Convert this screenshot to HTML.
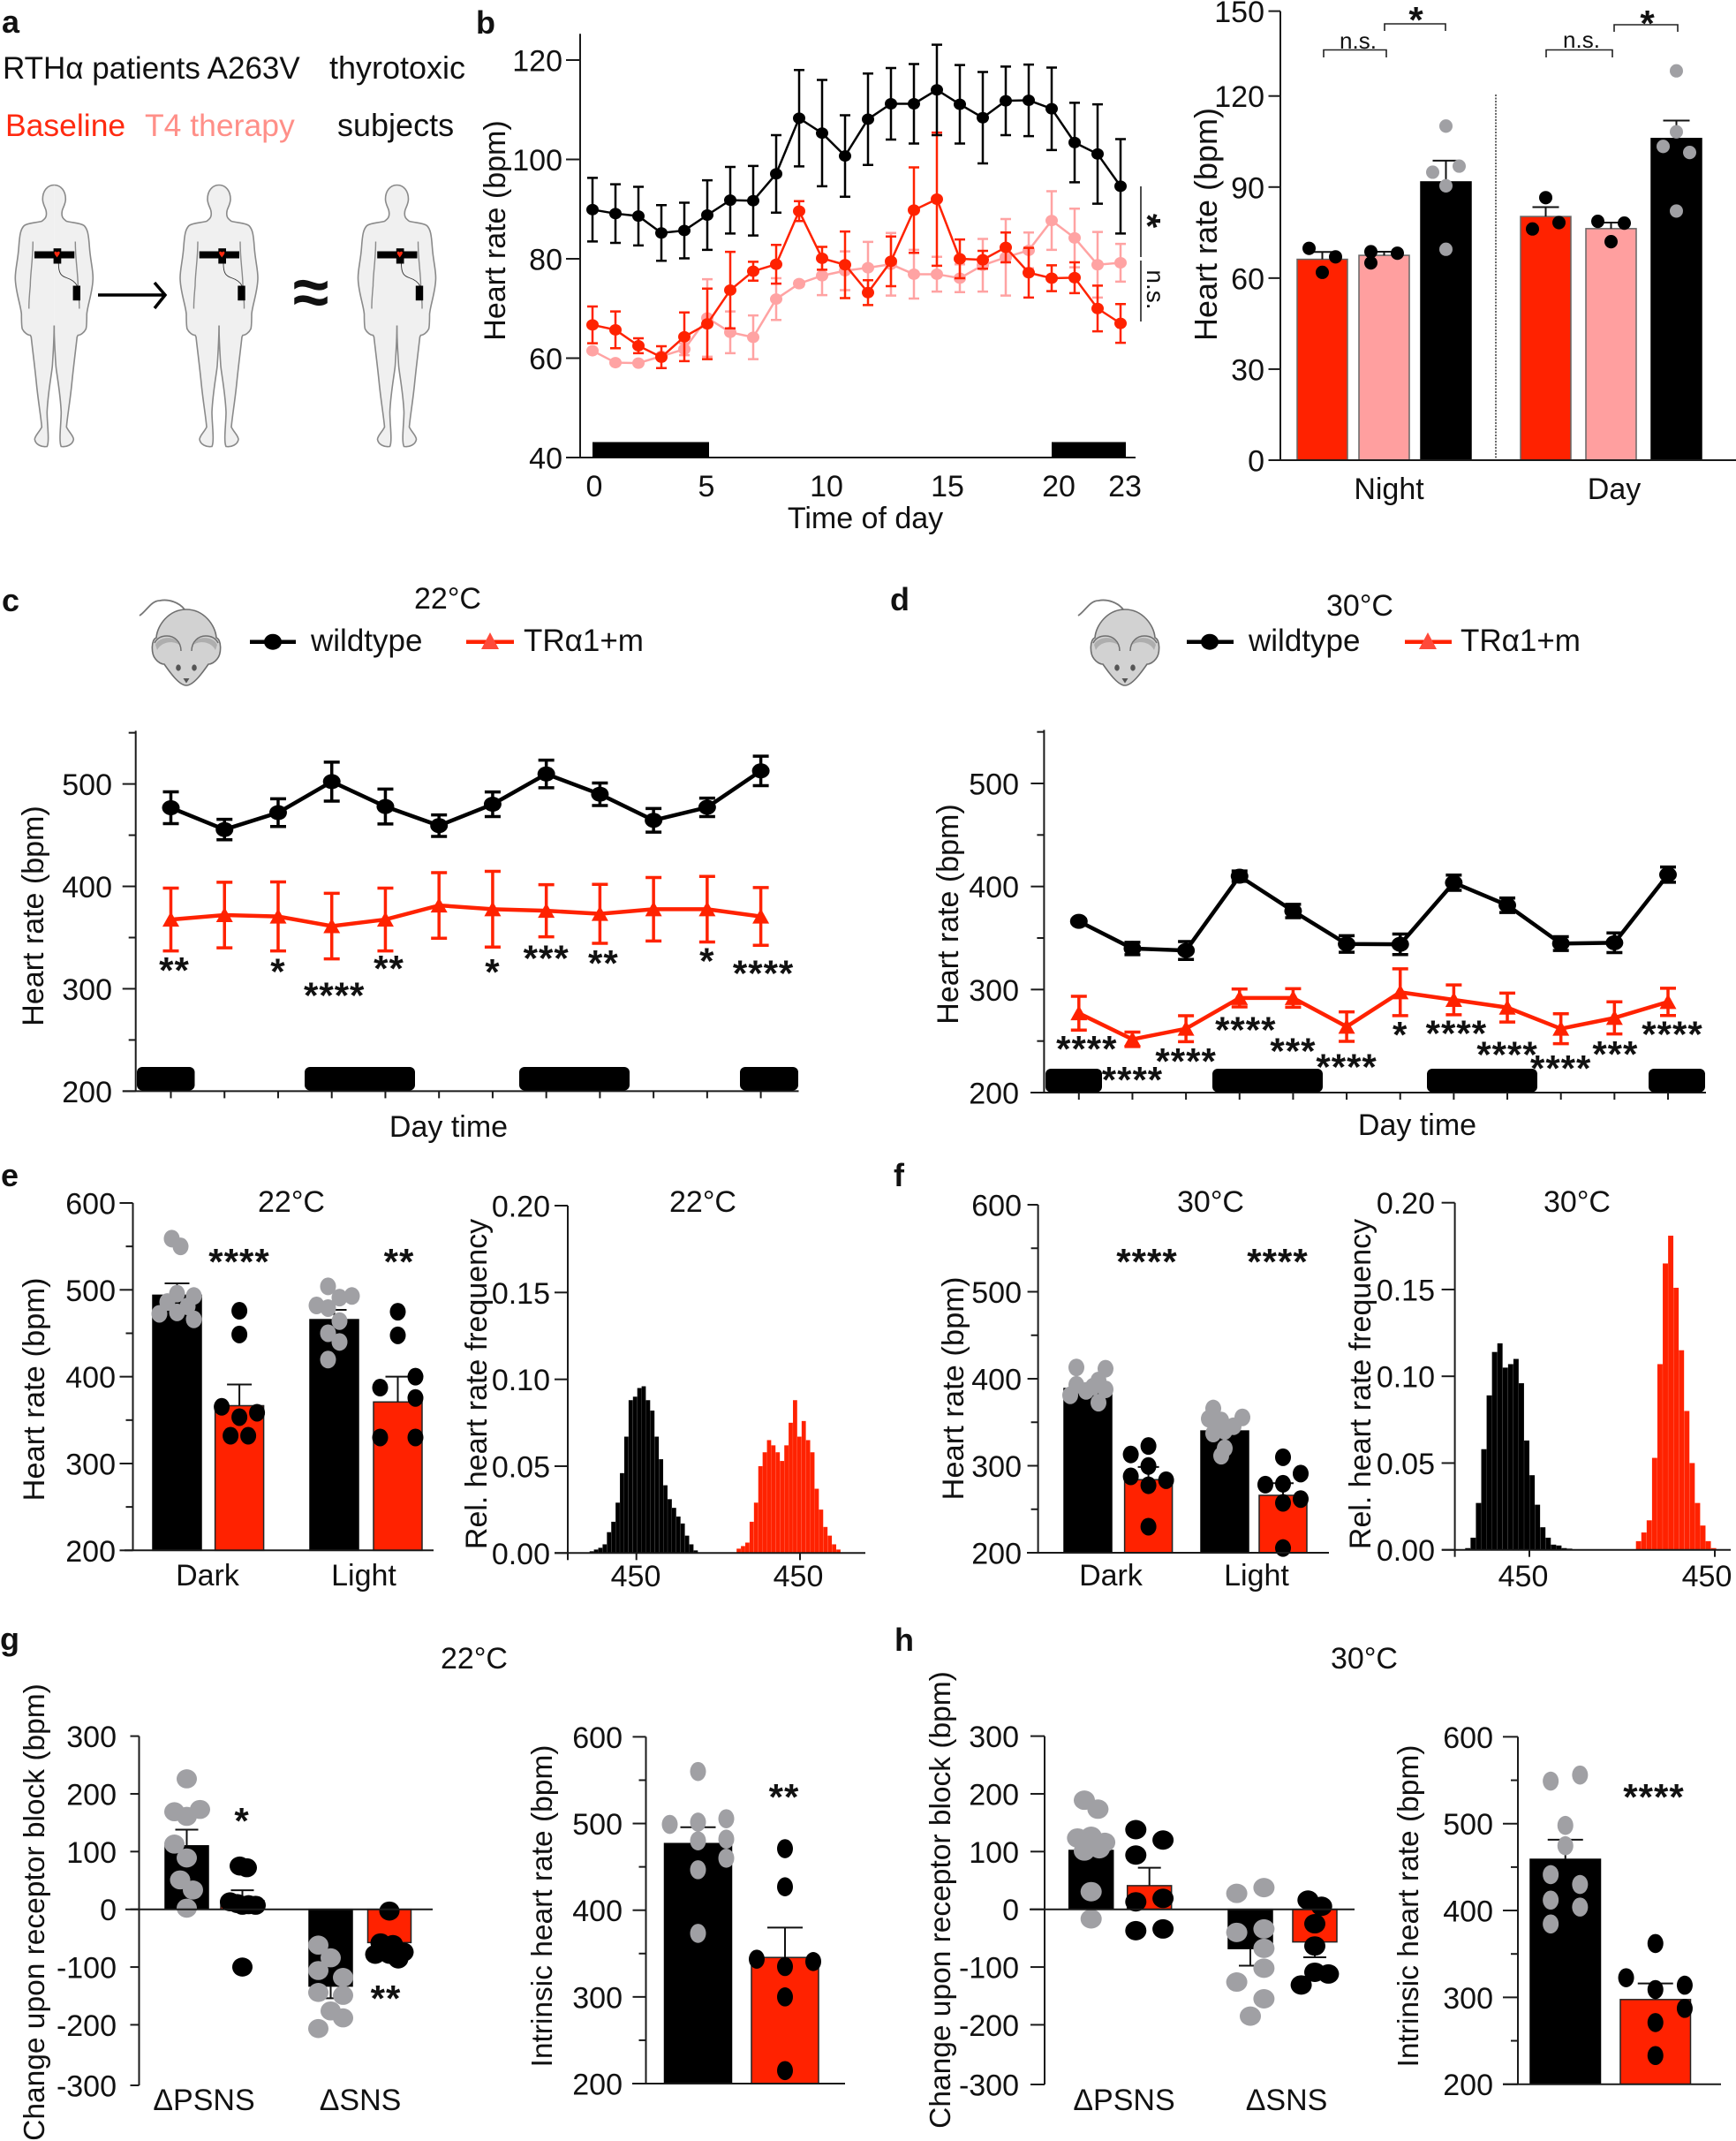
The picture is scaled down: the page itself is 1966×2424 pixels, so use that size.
<!DOCTYPE html>
<html lang="en">
<head>
<meta charset="utf-8">
<title>Heart rate figure</title>
<style>
html,body{margin:0;padding:0;background:#fff;}
svg{display:block;}
text{font-family:"Liberation Sans",sans-serif;fill:#111;font-size:34px;}
.letter{font-weight:bold;font-size:36px;}
.sm{font-size:33.5px;}
</style>
</head>
<body>
<svg id="figure" xmlns="http://www.w3.org/2000/svg" width="1966" height="2424" viewBox="0 0 1966 2424">
<defs>
<g id="human">
  <g id="half">
    <path d="M0,0 C8,0 13,7 13,16 C13,22 9,27 9,30 C8,36 10,38 14,41 C22,43 30,43 34,46 C38,50 39,56 40,70 C41,85 44,95 44,105 C44,120 38,135 37,146 C37,155 37,160 36,163 C34,167 30,170 27,170 C26,172 26,172 26,172 C24,190 22,205 20,225 C18,245 15,262 14,274 C17,280 22,284 22,288 C21,294 14,297 8,296 C5,290 8,270 8,257 C7,235 3,215 2,205 C1,190 0,175 0,159" fill="#f0f0f0" stroke="#8a8a8a" stroke-width="1.6"/>
    <path d="M24,64 C24,85 27,100 27,114 C28,125 28.7,132 28.5,140" fill="none" stroke="#8a8a8a" stroke-width="1.4"/>
  </g>
  <use href="#half" transform="scale(-1,1)"/>
  <rect x="-22.3" y="75" width="45.3" height="8" fill="#000"/>
  <rect x="-0.7" y="71.7" width="8.7" height="17.3" fill="#000"/>
  <path d="M0.3,76 C1.5,74.5 3,75.5 3.3,76.5 C3.6,75.5 5.2,74.5 6.3,76 C6.8,78 4.5,80 3.3,82 C2,80 -0.2,78 0.3,76 Z" fill="#ff2a10"/>
  <path d="M5,89 C5,100 8,103 14,105 C20,107 24,110 26,114" fill="none" stroke="#333" stroke-width="0.9"/>
  <rect x="21.3" y="114" width="8.4" height="16.7" fill="#000"/>
</g>
<g id="mouse">
  <path d="M-53,7 C-45,2 -40,-10 -30,-10 C-20,-12 -8,-8 -2,0" fill="none" stroke="#777" stroke-width="1.8"/>
  <path d="M0,0 C20,0 33,18 34,32 C40,34 40,50 35,56 C32,60 28,62 25,62 C18,72 8,86 0,86 C-8,86 -18,72 -25,62 C-28,62 -32,60 -35,56 C-40,50 -40,34 -34,32 C-33,18 -20,0 0,0 Z" fill="#d2d2d2" stroke="#6e6e6e" stroke-width="1.6"/>
  <path d="M-35,40 C-32,31 -12,28 -8,40 C-15,35 -28,36 -33,46 Z" fill="#aeaeae"/>
  <path d="M35,40 C32,31 12,28 8,40 C15,35 28,36 33,46 Z" fill="#aeaeae"/>
  <path d="M-6,47 C-6,36 -14,30 -22,30 C-28,30 -33,32 -36,38" fill="none" stroke="#6e6e6e" stroke-width="1.5"/>
  <path d="M6,47 C6,36 14,30 22,30 C28,30 33,32 36,38" fill="none" stroke="#6e6e6e" stroke-width="1.5"/>
  <ellipse cx="-9" cy="66" rx="2.8" ry="3.6" fill="#555"/>
  <ellipse cx="9" cy="66" rx="2.8" ry="3.6" fill="#555"/>
  <path d="M-3.5,78 L3.5,78 L0,83.5 Z" fill="#555"/>
</g>
</defs>

<g>
  <text class="letter" x="2" y="37">a</text>
  <text x="3" y="89" style="font-size:35px">RTHα patients A263V</text>
  <text x="373" y="89" style="font-size:36px">thyrotoxic</text>
  <text x="6" y="154" style="font-size:35.5px;fill:#ff2a10">Baseline</text>
  <text x="164" y="154" style="font-size:35.5px;fill:#ff8f88">T4 therapy</text>
  <text x="382" y="154" style="font-size:36px">subjects</text>
  <use href="#human" x="61.3" y="209.5"/>
  <use href="#human" x="248" y="209.5"/>
  <use href="#human" x="449.5" y="209.5"/>
  <path d="M111,334 H185 M175,320 L187,334 L175,349" fill="none" stroke="#000" stroke-width="3.5"/>
  <text x="352" y="356" text-anchor="middle" style="font-size:74px;font-weight:bold">≈</text>
</g>

<g id="panelBL">
  <text class="letter" x="539" y="38">b</text>
  <text transform="rotate(-90 572 261)" x="572" y="261" text-anchor="middle">Heart rate (bpm)</text>
  <text x="673" y="562" text-anchor="middle">0</text>
  <text x="800" y="562" text-anchor="middle">5</text>
  <text x="936" y="562" text-anchor="middle">10</text>
  <text x="1073" y="562" text-anchor="middle">15</text>
  <text x="1199" y="562" text-anchor="middle">20</text>
  <text x="1274" y="562" text-anchor="middle">23</text>
  <text x="980" y="598" text-anchor="middle">Time of day</text>
  <path d="M1292,211 V291 M1292,295 V364" stroke="#222" stroke-width="1.6" fill="none"/>
  <text transform="rotate(90 1285 250)" x="1285" y="250" text-anchor="middle" style="font-size:42px;font-weight:bold">*</text>
  <text transform="rotate(90 1299 328)" x="1299" y="328" text-anchor="middle" style="font-size:28px">n.s.</text>
</g>

<g id="panelBR">
  <text transform="rotate(-90 1378 254)" x="1378" y="254" text-anchor="middle" style="font-size:36px">Heart rate (bpm)</text>
  <text x="1573" y="565" text-anchor="middle">Night</text>
  <text x="1828" y="565" text-anchor="middle">Day</text>
  <path d="M1499,65 V56.5 H1570 V65 M1568,35 V27 H1637 V35 M1751,65 V56.5 H1826 V65 M1828,36 V28 H1900 V36" fill="none" stroke="#222" stroke-width="1.6"/>
  <text x="1538" y="55" text-anchor="middle" style="font-size:26px">n.s.</text>
  <text x="1791" y="54" text-anchor="middle" style="font-size:26px">n.s.</text>
  <line x1="1694" y1="107" x2="1694" y2="522" stroke="#444" stroke-width="1.6" stroke-dasharray="2 1.5"/>
</g>

<g id="panelC">
  <text class="letter" x="2" y="692">c</text>
  <text x="507" y="689" text-anchor="middle">22°C</text>
  <use href="#mouse" x="211" y="690"/>
  <line x1="283" x2="335" y1="726.7" y2="726.7" stroke="#000" stroke-width="4.5"/>
  <ellipse cx="309" cy="726.7" rx="10" ry="9" fill="#000"/>
  <text x="352" y="737" style="font-size:35px">wildtype</text>
  <line x1="528" x2="582" y1="726.7" y2="726.7" stroke="#ff2200" stroke-width="4.5"/>
  <path d="M555,716 L565,735 H545 Z" fill="#ff4a3a"/>
  <text x="593" y="737" style="font-size:35px">TRα1+m</text>
  <text transform="rotate(-90 49 1037)" x="49" y="1037" text-anchor="middle">Heart rate (bpm)</text>
  <text x="508" y="1287" text-anchor="middle">Day time</text>
</g>

<g id="panelD">
  <text class="letter" x="1008" y="691">d</text>
  <text x="1540" y="697" text-anchor="middle">30°C</text>
  <use href="#mouse" x="1274" y="690"/>
  <line x1="1344" x2="1397" y1="726.7" y2="726.7" stroke="#000" stroke-width="4.5"/>
  <ellipse cx="1370" cy="726.7" rx="10" ry="9" fill="#000"/>
  <text x="1414" y="737" style="font-size:35px">wildtype</text>
  <line x1="1591" x2="1644" y1="726.7" y2="726.7" stroke="#ff2200" stroke-width="4.5"/>
  <path d="M1617,716 L1627,735 H1607 Z" fill="#ff4a3a"/>
  <text x="1654" y="737" style="font-size:35px">TRα1+m</text>
  <text transform="rotate(-90 1085 1035)" x="1085" y="1035" text-anchor="middle">Heart rate (bpm)</text>
  <text x="1605" y="1285" text-anchor="middle">Day time</text>
</g>

<g id="panelE">
  <text class="letter" x="1" y="1343">e</text>
  <text x="330" y="1372" text-anchor="middle">22°C</text>
  <text transform="rotate(-90 50 1573)" x="50" y="1573" text-anchor="middle" style="font-size:34.5px">Heart rate (bpm)</text>
  <text x="235" y="1795" text-anchor="middle">Dark</text>
  <text x="412" y="1795" text-anchor="middle">Light</text>
</g>

<g id="panelEH">
  <text x="796" y="1372" text-anchor="middle">22°C</text>
  <text transform="rotate(-90 551 1567)" x="551" y="1567" text-anchor="middle" style="font-size:34px">Rel. heart rate frequency</text>
  <text x="720" y="1796" text-anchor="middle">450</text>
  <text x="904" y="1796" text-anchor="middle">450</text>
</g>

<g id="panelF">
  <text class="letter" x="1012" y="1343">f</text>
  <text x="1371" y="1372" text-anchor="middle">30°C</text>
  <text transform="rotate(-90 1091 1572)" x="1091" y="1572" text-anchor="middle" style="font-size:34.5px">Heart rate (bpm)</text>
  <text x="1258" y="1795" text-anchor="middle">Dark</text>
  <text x="1423" y="1795" text-anchor="middle">Light</text>
</g>

<g id="panelFH">
  <text x="1786" y="1372" text-anchor="middle">30°C</text>
  <text transform="rotate(-90 1552 1567)" x="1552" y="1567" text-anchor="middle" style="font-size:34px">Rel. heart rate frequency</text>
  <text x="1725" y="1796" text-anchor="middle">450</text>
  <text x="1933" y="1796" text-anchor="middle">450</text>
</g>

<g id="panelG">
  <text class="letter" x="0" y="1868">g</text>
  <text x="537" y="1889" text-anchor="middle">22°C</text>
  <text transform="rotate(-90 50 2165)" x="50" y="2165" text-anchor="middle" class="sm">Change upon receptor block (bpm)</text>
  <text x="231" y="2389" text-anchor="middle">ΔPSNS</text>
  <text x="408" y="2389" text-anchor="middle">ΔSNS</text>
</g>

<g id="panelGI">
  <text transform="rotate(-90 625 2158)" x="625" y="2158" text-anchor="middle" class="sm">Intrinsic heart rate (bpm)</text>
</g>

<g id="panelH">
  <text class="letter" x="1013" y="1869">h</text>
  <text x="1545" y="1889" text-anchor="middle">30°C</text>
  <text transform="rotate(-90 1076 2151)" x="1076" y="2151" text-anchor="middle" class="sm">Change upon receptor block (bpm)</text>
  <text x="1273" y="2389" text-anchor="middle">ΔPSNS</text>
  <text x="1457" y="2389" text-anchor="middle">ΔSNS</text>
</g>

<g id="panelHI">
  <text transform="rotate(-90 1606 2158)" x="1606" y="2158" text-anchor="middle" class="sm">Intrinsic heart rate (bpm)</text>
</g>
</svg>

<script>
// ---- Panel b hourly ----
const bHours=[0,1,2,3,4,5,6,7,8,9,10,11,12,13,14,15,16,17,18,19,20,21,22,23];
const bYTicks=[40,60,80,100,120];
const bThyrotoxic=[89.9,89.1,88.6,85.2,85.7,88.8,91.8,91.7,97.1,108.3,105.3,100.7,108.1,111.2,111.2,114,111.1,108.4,111.8,111.9,110.2,103.4,101.1,94.6];
const bThyrotoxicErr=[6.4,5.9,5.9,5.6,5.6,7,6.7,7,7.8,9.7,10.7,8.2,9.2,7.2,8,9.1,7.9,9.2,6.9,7.2,8.3,8,10,9.5];
const bBaseline=[66.7,65.7,62.5,60.2,64.3,66.9,73.7,77.5,78.9,89.6,80.1,78.8,73.2,79.5,89.8,92,80,79.8,82.3,77.2,76.1,76.2,70,67];
const bBaselineErr=[3.7,3.7,1.5,2.2,4.9,7.1,7.7,1.9,3.9,2,2.3,6.7,2.5,5,8.6,13.4,3.9,1.8,3,5,2.6,3.1,4.6,3.9];
const bT4=[61.5,59.1,59,60.4,61.8,68.1,65.2,64.2,71.9,75,76.6,77.6,78.2,78.9,76.9,76.9,76.1,78.7,80.3,81.7,87.7,84.2,78.8,79.2];
const bT4Err=[0.3,0.3,0.3,0.3,1.2,7.8,4.2,4.4,4.2,0.5,3.9,3.9,5.2,6.3,4.9,3.5,2.8,5.3,7.7,3.6,5.9,5.9,6.6,3.8];
const bNightHours=[[0,5],[20,23]];
// ---- Panel b bars ----
const bBarYTicks=[0,30,60,90,120,150];
const bBarValues=[66.2,67.5,91.7,80.3,76.3,106];
const bBarErrors=[68.6,68.7,98.7,83.4,78.3,111.9];
const bBarColors=['#ff2200','#ff9f9f','#000','#ff2200','#ff9f9f','#000'];
const bDots=[
 [[69.8,-1],[67,1],[61.9,0]],
 [[68.7,-1],[68.2,1],[65,-1]],
 [[110.1,0],[96.9,1],[94.9,-1],[90.4,0],[69.5,0]],
 [[86.5,0],[76.2,-1],[78.3,1]],
 [[78.7,-1],[78.1,1],[72,0]],
 [[128.9,0],[108.2,0],[103.4,-1],[101.4,1],[82.1,0]]
];
// ---- Panel c ----
const timeTicks=[0,1,2,3,4,5,6,7,8,9,10,11];
const hrYTicks=[200,300,400,500];
const hrYMinor=[250,350,450,550];
const cWildtype=[476.8,455.5,472,502.3,478,459.3,480.2,509.8,490,464.5,477.2,512.8];
const cWildtypeErr=[15.5,10,13.5,19,17,10.5,12,13.5,11,11.5,9,14.4];
const cMutant=[367.6,372,370.6,361.2,367.6,381.4,377.7,376.2,373.2,377.7,377.7,370.6];
const cMutantErr=[30.7,32,33.7,32,30.7,32,37,25.4,28.8,31,32,28.2];
const cStars=['**','','*','****','**','','*','***','**','','*','****'];
const cStarLevels=[323,0,321.6,298.4,324.6,0,320.9,334.3,329.8,0,332,320];
// ---- Panel d ----
const dWildtype=[366.2,339.8,337.9,410,376.2,344.2,343.9,403.7,381.8,344.6,345.4,411.5];
const dWildtypeErr=[2,6,8.7,5,6.5,8,10,7.4,7,6.7,9.5,7.4];
const dMutant=[277,251.7,262,291.8,291.8,264,297.4,290,282.5,262,272.5,288];
const dMutantErr=[16.4,7,12.6,8.7,9,14.3,22.7,14.5,14,14.5,15.6,13.2];
const dStars=['****','****','****','****','***','****','*','****','****','****','***','****'];
const dStarLevels=[247,217.3,235,265.7,245,229.6,260.9,262,241.5,228.5,242.2,261.2];
// ---- Panel e ----
const barYTicks=[200,300,400,500,600];
const eValues=[493.8,366.6,465.7,370.9];
const eErrors=[507.4,391,477,400];
const eDots=[
 [[559,-.6],[550,.4],[492.9,1.9],[495.6,0],[486,-1.1],[472.4,-2],[474,0],[466,1.9],[481,1.2]],
 [[475.9,0],[448.6,0],[365.3,-2],[358.5,2],[353.4,0],[332,-1],[332,1]],
 [[504,-.7],[492.9,2],[491,.6],[482,-2],[479,-.7],[464,.6],[450,-.7],[440,.6],[419.7,-.7]],
 [[474.8,0],[447.6,0],[400,2],[387.4,-2],[375.5,2],[330,-2],[330,2]]
];
const freqYTicks=[0,0.05,0.1,0.15,0.2];
const eHistWT=[.001,.002,.003,.005,.012,.018,.029,.046,.067,.088,.09,.095,.096,.088,.082,.067,.054,.039,.031,.026,.021,.017,.01,.005,.0015];
const eHistMut=[.0025,.004,.006,.018,.029,.05,.058,.065,.062,.058,.053,.062,.075,.088,.067,.076,.065,.058,.037,.025,.015,.01,.005,.002];
// ---- Panel f ----
const fValues=[388.8,284,340,266];
const fErrors=[391,298.6,342,280];
const fDots=[
 [[413,-1.3],[411.5,2],[393,-1.3],[398,1.2],[387.8,2],[386,-.2],[381,-2],[372.5,1.2],[391,.6]],
 [[322.7,0],[313,-2],[299.7,0],[287.8,-2],[283.4,2],[277.6,0],[230,0]],
 [[365.8,-1.3],[355.6,2],[354,-1.8],[352,-.4],[345.4,1],[340,0],[337,-1.3],[320,0],[311.5,-.4]],
 [[309.8,0],[291,2],[278.3,-2],[279.3,0],[261.7,2],[257.3,0],[205.4,0]]
];
const fHistWT=[.001,.007,.027,.058,.089,.114,.119,.105,.107,.11,.096,.063,.043,.026,.013,.007,.003,.0025,.001,.0007];
const fHistMut=[.005,.01,.017,.053,.107,.165,.181,.151,.115,.08,.05,.027,.014,.005,.001];
// ---- Panel g ----
const changeYTicks=[-300,-200,-100,0,100,200,300];
const gValues=[110,15,-133,-57.6];
const gErrors=[138,33,-154,-59];
const gDots=[
 [[226,0],[173,1.5],[169,-1.4],[161,0],[113,-1.4],[89,0],[51,-.75],[33.5,.7],[2,0]],
 [[75,-.3],[72,.5],[13,-1.4],[7,0],[7,1.5],[10,-.6],[8,.7],[-100,0]],
 [[-62,-1.4],[-84,0],[-106,-1.4],[-118,1.4],[-144,-1.4],[-149,1.4],[-176,0],[-188,1.4],[-206,-1.4]],
 [[-3,0],[-58,-1],[-61,.4],[-78,-1.6],[-78,0],[-74,1.6],[-86,1]]
];
const intrinsicYTicks=[200,300,400,500,600];
const gIValues=[476.9,345.5];
const gIErrors=[495.7,380];
const gIDots=[
 [[560,0],[499,-1],[501.6,0],[505.5,1],[480,0],[482,1],[460,1],[446.7,0],[373.3,0]],
 [[471,0],[427,0],[343.5,-1],[335,0],[340.8,1],[300,0],[215,0]]
];
// ---- Panel h ----
const hValues=[102,41,-68,-56.5];
const hErrors=[114,72,-97.6,-83];
const hDots=[
 [[189,-.5],[173.5,.5],[123.5,-1],[126.5,0],[116,1],[101,-.5],[105,.6],[30.6,0],[-16.5,0]],
 [[138,-1],[120,1],[94,-1],[19,1],[13,-1],[-37,-1],[-34,1]],
 [[27.6,-1],[37.6,1],[-40,-1],[-34,1],[-67.6,1],[-102,1],[-126,-1],[-155,1],[-185,0]],
 [[16,-.5],[5.3,.5],[-25,0],[-63.5,0],[-109,0],[-112,1],[-131,-1]]
];
const hIValues=[459,297.5];
const hIErrors=[481.6,316];
const hIDots=[
 [[549,-1],[556,1],[498,0],[474.6,0],[441.3,-1],[430,1],[412,-1],[404,1],[384.5,-1]],
 [[362,0],[322.6,-2],[314,2],[309,0],[287.3,2],[271,0],[233,0]]
];

const NS='http://www.w3.org/2000/svg';
const AXIS='#1a1a1a';
function mk(parent,tag,attrs,name,text){
  const el=document.createElementNS(NS,tag);
  for(const k in attrs)el.setAttribute(k,attrs[k]);
  
  
  if(text!==undefined)el.textContent=text;
  parent.appendChild(el);
  return el;
}
function linear(d0,r0,d1,r1){return v=>r0+(v-d0)*(r1-r0)/(d1-d0);}
function yAxis(g,x,y,range,ticks,minor,fmt,tickLen,labelX){
  mk(g,'line',{x1:x,x2:x,y1:y(range[0]),y2:y(range[1]),stroke:AXIS,'stroke-width':2},'y-axis-line');
  ticks.forEach(t=>{
    mk(g,'line',{x1:x-tickLen,x2:x,y1:y(t),y2:y(t),stroke:AXIS,'stroke-width':2},'y-tick');
    mk(g,'text',{x:labelX,y:y(t)+12.5,'text-anchor':'end'},'y-tick-label',fmt?fmt(t):String(t));
  });
  minor.forEach(t=>mk(g,'line',{x1:x-8,x2:x,y1:y(t),y2:y(t),stroke:AXIS,'stroke-width':2},'y-minor-tick'));
}
function series(g,xs,vals,errs,y,o){
  errs.forEach((e,i)=>{
    const cx=xs[i];
    mk(g,'path',{d:`M${cx},${y(vals[i]-e)}V${y(vals[i]+e)}M${cx-o.cap},${y(vals[i]-e)}H${cx+o.cap}M${cx-o.cap},${y(vals[i]+e)}H${cx+o.cap}`,fill:'none',stroke:o.color,'stroke-width':o.errW},o.name+'-error-bar');
  });
  mk(g,'polyline',{points:vals.map((v,i)=>xs[i]+','+y(v)).join(' '),fill:'none',stroke:o.color,'stroke-width':o.lineW},o.name+'-line');
  vals.forEach((v,i)=>{
    if(o.marker==='tri'){
      const cx=xs[i],cy=y(v);
      mk(g,'path',{d:`M${cx},${cy-9}L${cx+o.rx},${cy+8}H${cx-o.rx}Z`,fill:o.color},o.name+'-point');
    }else{
      mk(g,'ellipse',{cx:xs[i],cy:y(v),rx:o.rx,ry:o.ry,fill:o.color},o.name+'-point');
    }
  });
}
function stars(g,x,cy,s){
  if(!s)return;
  mk(g,'text',{x:x,y:cy+20,'text-anchor':'middle',style:'font-size:42px;font-weight:bold;letter-spacing:1px'},'significance-stars',s);
}
function barChart(g,opts){
  opts.values.forEach((v,i)=>{
    const left=opts.x(i),w=opts.width,c=left+w/2,y=opts.y;
    const col=opts.colors[i];
    const top=Math.min(y(v),y(opts.base)),h=Math.abs(y(v)-y(opts.base));
    const outline=col==='#000'?'#000':(opts.outline||'#222');
    mk(g,'rect',{x:left,y:top,width:w,height:h,fill:col,stroke:outline,'stroke-width':1.5},opts.name+'-bar-'+i);
    const e=opts.errors[i];
    mk(g,'path',{d:`M${c},${y(v)}V${y(e)}M${c-opts.cap},${y(e)}H${c+opts.cap}`,fill:'none',stroke:'#111','stroke-width':2},opts.name+'-error-bar-'+i);
    opts.dots[i].forEach(p=>{
      const fill=col==='#000'?'#a0a0a4':'#000';
      mk(g,'ellipse',{cx:c+p[1]*opts.unit,cy:y(p[0]),rx:opts.rx,ry:opts.ry,fill:fill},opts.name+'-data-point');
    });
  });
}
function twoGroups(a,s1,b,s2,n){return i=>i<n?a+i*s1:b+(i-n)*s2;}
function histogram(g,freqs,start,w,y,color,name){
  freqs.forEach((f,i)=>{
    mk(g,'rect',{x:start+i*w,y:y(f),width:w-0.15,height:y(0)-y(f),fill:color},name+'-bin');
  });
}
function xAxisLine(g,x1,x2,yy){mk(g,'line',{x1:x1,x2:x2,y1:yy,y2:yy,stroke:AXIS,'stroke-width':2},'x-axis-line');}

// Panel b line chart
(function(){
  const g=document.getElementById('panelBL');
  const y=linear(40,518,120,68), x=linear(0,671,23,1269);
  const xs=bHours.map(x);
  yAxis(g,657,y,[40,125.3],bYTicks,[],null,16,637);
  mk(g,'line',{x1:657,x2:1286,y1:y(40),y2:y(40),stroke:AXIS,'stroke-width':2},'x-axis-line');
  bNightHours.forEach(n=>mk(g,'rect',{x:x(n[0]),y:500.5,width:x(n[1])-x(n[0])+(n[0]===20?6:2),height:17.5,fill:'#000'},'night-period-bar'));
  series(g,xs,bT4,bT4Err,y,{color:'#ffa3a3',cap:6,errW:2.5,lineW:2.5,rx:7,ry:6.5,name:'t4-therapy'});
  series(g,xs,bBaseline,bBaselineErr,y,{color:'#ff2200',cap:6,errW:2.5,lineW:2.5,rx:7,ry:6.5,name:'baseline'});
  series(g,xs,bThyrotoxic,bThyrotoxicErr,y,{color:'#000',cap:6,errW:2.5,lineW:2.5,rx:7,ry:6.5,name:'thyrotoxic'});
})();

// Panel b bars
(function(){
  const g=document.getElementById('panelBR');
  const lo=linear(0,521,120,108.7), hi=linear(120,108.7,150,12.6);
  const y=v=>v>120?hi(v):lo(v);
  yAxis(g,1450,y,[0,150],bBarYTicks,[],null,13.5,1432);
  barChart(g,{values:bBarValues,errors:bBarErrors,colors:bBarColors,dots:bDots,x:twoGroups(1469,70,1722,74,3),width:57,y:y,base:0,cap:15,unit:15,rx:7.5,ry:7.6,outline:'#666',name:'night-day'});
  xAxisLine(g,1450,1966,y(0));
  stars(g,1604,17,'*');
  stars(g,1866,21,'*');
})();

// Panel c
(function(){
  const g=document.getElementById('panelC');
  const y=linear(200,1235.4,500,887.6), x=linear(0,193.5,11,861.6);
  const xs=timeTicks.map(x);
  yAxis(g,153.7,y,[200,552],hrYTicks,hrYMinor,null,15,127);
  xAxisLine(g,139,904.5,y(200));
  timeTicks.forEach(t=>mk(g,'line',{x1:x(t),x2:x(t),y1:y(200),y2:y(200)+8,stroke:AXIS,'stroke-width':2},'x-tick'));
  [[155,220.5],[345,470],[588,713],[838,904]].forEach(r=>mk(g,'rect',{x:r[0],y:1208,width:r[1]-r[0],height:26.5,rx:6,fill:'#000'},'dark-period-bar'));
  series(g,xs,cWildtype,cWildtypeErr,y,{color:'#000',cap:9,errW:3.5,lineW:4.5,rx:10,ry:8.5,name:'wildtype'});
  series(g,xs,cMutant,cMutantErr,y,{color:'#ff2200',cap:9,errW:3.5,lineW:4.5,rx:9.5,marker:'tri',name:'mutant'});
  cStars.forEach((s,i)=>stars(g,xs[i]+(s==='**'?4:s==='****'?3:0),y(cStarLevels[i]),s));
})();

// Panel d
(function(){
  const g=document.getElementById('panelD');
  const y=linear(200,1237,500,887), x=linear(0,1221.8,11,1889);
  const xs=timeTicks.map(x);
  yAxis(g,1182.4,y,[200,552],hrYTicks,hrYMinor,null,15,1154);
  xAxisLine(g,1167,1932,y(200));
  timeTicks.forEach(t=>mk(g,'line',{x1:x(t),x2:x(t),y1:y(200),y2:y(200)+8,stroke:AXIS,'stroke-width':2},'x-tick'));
  [[1184,1248],[1373,1498],[1616,1741],[1867,1931]].forEach(r=>mk(g,'rect',{x:r[0],y:1210,width:r[1]-r[0],height:26.5,rx:6,fill:'#000'},'dark-period-bar'));
  series(g,xs,dWildtype,dWildtypeErr,y,{color:'#000',cap:9,errW:3.5,lineW:4.5,rx:10,ry:8.5,name:'wildtype'});
  series(g,xs,dMutant,dMutantErr,y,{color:'#ff2200',cap:9,errW:3.5,lineW:4.5,rx:9.5,marker:'tri',name:'mutant'});
  dStars.forEach((s,i)=>stars(g,xs[i]+(i===0?9:i===3?7:i===7?3:i===10?1:i===11?5:0),y(dStarLevels[i]),s));
})();

// Panel e bars
(function(){
  const g=document.getElementById('panelE');
  const y=linear(200,1755.3,600,1362);
  yAxis(g,150.5,y,[200,600],barYTicks,hrYMinor,null,15,131);
  barChart(g,{values:eValues,errors:eErrors,colors:['#000','#ff2200','#000','#ff2200'],dots:eDots,x:twoGroups(173,70.6,351,72,2),width:55,y:y,base:200,cap:14,unit:10,rx:9,ry:10,name:'dark-light'});
  xAxisLine(g,141,491,y(200));
  stars(g,271,1423,'****');
  stars(g,452,1423,'**');
})();

// Panel e histogram
(function(){
  const g=document.getElementById('panelEH');
  const y=linear(0,1758.3,0.2,1365);
  yAxis(g,643,y,[0,0.2],freqYTicks,[],v=>v.toFixed(2),15,623);
  histogram(g,eHistWT,667.7,4.91,y,'#000','wildtype-histogram');
  histogram(g,eHistMut,834.2,4.91,y,'#ff2200','mutant-histogram');
  xAxisLine(g,628,980,y(0));
  [643,720.7,906].forEach(x=>mk(g,'line',{x1:x,x2:x,y1:y(0),y2:y(0)+8,stroke:AXIS,'stroke-width':2},'x-tick'));
})();

// Panel f bars
(function(){
  const g=document.getElementById('panelF');
  const y=linear(200,1758,600,1364);
  yAxis(g,1175.6,y,[200,600],barYTicks,hrYMinor,null,12,1157);
  barChart(g,{values:fValues,errors:fErrors,colors:['#000','#ff2200','#000','#ff2200'],dots:fDots,x:twoGroups(1205,68.6,1360,66,2),width:54,y:y,base:200,cap:12,unit:10,rx:9,ry:10,name:'dark-light'});
  xAxisLine(g,1163,1505,y(200));
  stars(g,1299,1423,'****');
  stars(g,1447,1423,'****');
})();

// Panel f histogram
(function(){
  const g=document.getElementById('panelFH');
  const y=linear(0,1754.7,0.2,1361.7);
  yAxis(g,1647.6,y,[0,0.2],freqYTicks,[],v=>v.toFixed(2),15,1625);
  histogram(g,fHistWT,1659.3,6.07,y,'#000','wildtype-histogram');
  histogram(g,fHistMut,1852.7,6.07,y,'#ff2200','mutant-histogram');
  xAxisLine(g,1633,1960,y(0));
  [1647.6,1732,1942].forEach(x=>mk(g,'line',{x1:x,x2:x,y1:y(0),y2:y(0)+8,stroke:AXIS,'stroke-width':2},'x-tick'));
})();

// Panel g
(function(){
  const g=document.getElementById('panelG');
  const y=linear(0,2161.7,300,1965.6);
  const yb=v=>v<-200?linear(-200,2292.6,-300,2361)(v):y(v);
  yAxis(g,157.5,yb,[-300,300],changeYTicks,[],null,10,132);
  barChart(g,{values:gValues,errors:gErrors,colors:['#000','#ff2200','#000','#ff2200'],dots:gDots,x:twoGroups(187,63,350,66.5,2),width:49,y:yb,base:0,cap:13,unit:10,rx:11.5,ry:10.8,name:'receptor-block'});
  xAxisLine(g,142,490,y(0));
  stars(g,274,2056,'*');
  stars(g,437,2257,'**');
})();

// Panel g intrinsic
(function(){
  const g=document.getElementById('panelGI');
  const y=linear(200,2359,600,1966.4);
  yAxis(g,731.5,y,[200,600],intrinsicYTicks,hrYMinor,null,15,705);
  barChart(g,{values:gIValues,errors:gIErrors,colors:['#000','#ff2200'],dots:gIDots,x:twoGroups(752.5,98.5,0,0,2),width:76,y:y,base:200,cap:20,unit:32,rx:9,ry:10.8,name:'intrinsic-rate'});
  xAxisLine(g,716,957,y(200));
  stars(g,888,2029,'**');
})();

// Panel h
(function(){
  const g=document.getElementById('panelH');
  const y=linear(0,2161.7,300,1965.6);
  const yb=v=>v<-200?linear(-200,2293,-300,2360)(v):y(v);
  yAxis(g,1183,yb,[-300,300],changeYTicks,[],null,16,1154);
  barChart(g,{values:hValues,errors:hErrors,colors:['#000','#ff2200','#000','#ff2200'],dots:hDots,x:twoGroups(1210.7,66,1391,73,2),width:50,y:yb,base:0,cap:13,unit:15.4,rx:12,ry:11,name:'receptor-block'});
  xAxisLine(g,1166,1534,y(0));
})();

// Panel h intrinsic
(function(){
  const g=document.getElementById('panelHI');
  const y=linear(200,2359.7,600,1966.4);
  yAxis(g,1719,y,[200,600],intrinsicYTicks,hrYMinor,null,17,1691);
  barChart(g,{values:hIValues,errors:hIErrors,colors:['#000','#ff2200'],dots:hIDots,x:twoGroups(1733,102,0,0,2),width:79.5,y:y,base:200,cap:20,unit:16.6,rx:9,ry:10.8,name:'intrinsic-rate'});
  xAxisLine(g,1702,1949,y(200));
  stars(g,1873,2029,'****');
})();
</script>
</body>
</html>
